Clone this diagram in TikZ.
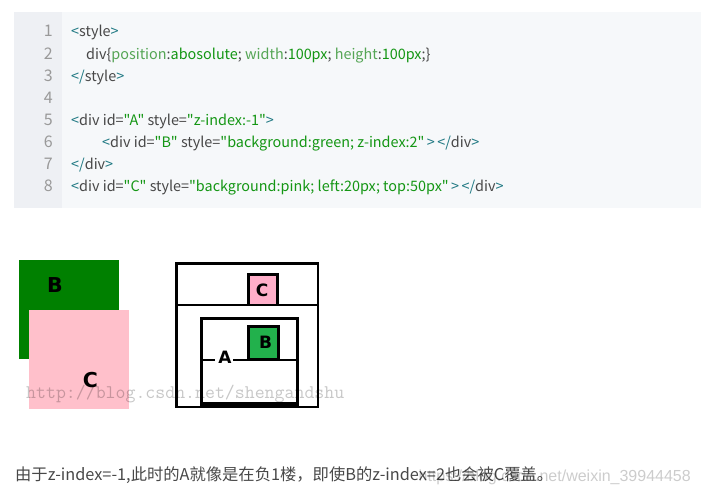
\documentclass[tikz,border=0pt]{standalone}
\usepackage{fontspec}
\newfontfamily\cjkfont{Noto Sans CJK SC}
\newfontfamily\labfont{DejaVu Sans}
\newfontfamily\markfont{Liberation Sans}

\definecolor{panelbg}{RGB}{246,248,250}
\definecolor{gutterbg}{RGB}{238,240,244}
\definecolor{numcol}{RGB}{153,153,153}
\definecolor{tagcol}{RGB}{30,120,130}
\definecolor{namecol}{RGB}{72,72,72}
\definecolor{valcol}{RGB}{20,150,20}
\definecolor{propcol}{RGB}{85,165,85}
\definecolor{cssgreen}{RGB}{0,128,0}
\definecolor{csspink}{RGB}{255,192,203}
\definecolor{paintgreen}{RGB}{34,177,76}
\definecolor{paintpink}{RGB}{255,174,201}

\newcommand\codefont{\cjkfont\fontsize{14.4}{18}\selectfont}
\newcommand\tagp[1]{\textcolor{tagcol}{#1}}
\newcommand\tagn[1]{\textcolor{namecol}{#1}}
\newcommand\attv[1]{\textcolor{valcol}{#1}}
\newcommand\cssp[1]{\textcolor{propcol}{#1}}

\tikzset{
  codeline/.style={anchor=base west, inner sep=0pt, font=\codefont},
  lineno/.style={anchor=base east, inner sep=0pt, text=numcol,
    font=\cjkfont\fontsize{16}{18}\selectfont},
  biglab/.style={inner sep=0pt, font=\labfont\bfseries\fontsize{20.5}{20}\selectfont},
  smalllab/.style={inner sep=0pt, font=\labfont\bfseries\fontsize{17}{17}\selectfont},
  wall/.style={line width=2.7pt}
}

\begin{document}
\begin{tikzpicture}[x=1pt,y=-1pt]
  \useasboundingbox (0,0) rectangle (701,495);

  % code panel
  \fill[panelbg] (14,12) rectangle (701,208);
  \fill[gutterbg] (14,12) rectangle (62,208);
  \foreach \i in {1,...,8}
    \node[lineno] (num\i) at (53,{37+22.07*(\i-1)}) {\i};

  \node[codeline] (ln1) at (71,37)     {\tagp{<}\tagn{style}\tagp{>}};
  \node[codeline] (ln2) at (86,59.07)  {\tagn{div\{}\cssp{position}\tagn{:}\attv{abosolute}\tagn{;} \cssp{width}\tagn{:}\attv{100px}\tagn{;} \cssp{height}\tagn{:}\attv{100px}\tagn{;\}}};
  \node[codeline] (ln3) at (71,81.14)  {\tagp{</}\tagn{style}\tagp{>}};
  \node[codeline] (ln5) at (71,125.28) {\tagp{<}\tagn{div id=}\attv{"A"} \tagn{style=}\attv{"z-index:-1"}\tagp{>}};
  \node[codeline] (ln6) at (102,147.35) {\tagp{<}\tagn{div id=}\attv{"B"} \tagn{style=}\attv{"background:green; z-index:2"}\,\tagp{>}\,\tagp{</}\tagn{div}\tagp{>}};
  \node[codeline] (ln7) at (71,169.42) {\tagp{</}\tagn{div}\tagp{>}};
  \node[codeline] (ln8) at (71,191.49) {\tagp{<}\tagn{div id=}\attv{"C"} \tagn{style=}\attv{"background:pink; left:20px; top:50px"}\,\tagp{>}\,\tagp{</}\tagn{div}\tagp{>}};

  % what the browser shows
  \fill[cssgreen] (19,260) rectangle (119,359);
  \fill[csspink] (29,310) rectangle (129,409);
  \node[biglab] (labB) at (55,285) {B};
  \node[biglab] (labC) at (90.5,380.5) {C};

  % layers
  \draw[wall] (176.5,263.5) rectangle (318,407);
  \draw[wall] (176.5,305) -- (318,305);
  \draw[wall, fill=paintpink] (248.3,274.7) rectangle (277.5,305);
  \node[smalllab] (layC) at (262,290) {C};
  \draw[wall] (201.3,405) -- (201.3,318.3) -- (297.3,318.3) -- (297.3,405);
  \fill (200,402) rectangle (298.7,408.3);
  \draw[wall, fill=paintgreen] (248.7,326.3) rectangle (278.7,359);
  \node[smalllab] (layB) at (265.5,342.5) {B};
  \draw[wall] (201.3,360) -- (215,360);
  \draw[wall] (233,360) -- (297.3,360);
  \node[smalllab] (layA) at (225,357) {A};

  % watermarks
  \node[anchor=base west, inner sep=0pt, text=black, text opacity=0.22,
    font=\ttfamily\fontsize{19.3}{19}\selectfont] (mark1) at (26,398) {http://blog.csdn.net/shengandshu};

  % remark
  \node[anchor=base west, inner sep=0pt, text=namecol,
    font=\cjkfont\fontsize{16.3}{18}\selectfont] (remark) at (15,480)
    {由于z-index=-1,此时的A就像是在负1楼，即使B的z-index=2也会被C覆盖。};
  \node[anchor=base east, inner sep=0pt, text=black, text opacity=0.2,
    font=\markfont\fontsize{16}{16}\selectfont] (mark2) at (691,481) {https://blog.csdn.net/weixin\_39944458};
\end{tikzpicture}
\end{document}
